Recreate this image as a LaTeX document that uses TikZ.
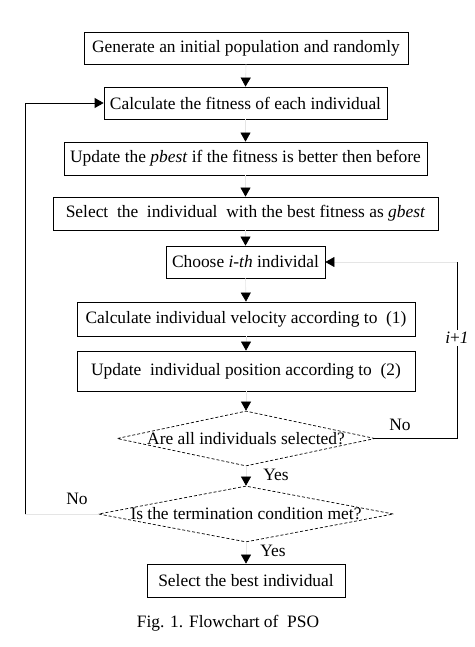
\documentclass[tikz,border=0pt]{standalone}
\usepackage{fontspec}
\setmainfont{Liberation Serif}
\usetikzlibrary{shapes.geometric,arrows.meta}
\begin{document}
\begin{tikzpicture}[x=1pt,y=-1pt,
  every node/.style={font=\fontsize{17.4}{20}\selectfont},
  box/.style={draw, line width=0.8pt, minimum height=32pt, inner sep=0pt},
  dec/.style={draw, dash pattern=on 3pt off 2pt, line width=0.7pt, diamond, inner sep=0pt},
  lbl/.style={inner sep=1pt},
  tip/.style={-{Triangle[length=9pt,width=10pt,color=black,fill=black]}},
  faint/.style={draw=black!10, line width=0.6pt},
  line/.style={draw=black, line width=0.8pt}]
\useasboundingbox (0,0) rectangle (474,647);
\fill[white] (0,0) rectangle (474,647);

\node[box, minimum width=324pt] (gen) at (246,48) {Generate an initial population and randomly};
\node[box, minimum width=283pt] (calc) at (245.5,103) {Calculate the fitness of each individual};
\node[box, minimum width=363pt, minimum height=33pt] (pbest) at (245.5,158.5) {Update the \textit{pbest} if the fitness is better then before};
\node[box, minimum width=385pt, minimum height=33pt] (gbest) at (245.5,213.5) {Select\ \ the\ \ individual\ \ with the best fitness as \textit{gbest}};
\node[box, minimum width=159pt] (choose) at (245.5,262) {Choose \textit{i-th} individal};
\node[box, minimum width=338pt, minimum height=34pt] (vel) at (246,319) {Calculate individual velocity according to\ \ (1)};
\node[box, minimum width=338pt, minimum height=40pt] (pos) at (246,371) {Update\ \ individual position according to\ \ (2)};
\node[dec, minimum width=258pt, minimum height=55pt] (d1) at (246,438.5) {\makebox[0pt]{Are all individuals selected?}};
\node[dec, minimum width=295pt, minimum height=56pt] (d2) at (246,514) {\makebox[0pt]{Is the termination condition met?}};
\node[box, minimum width=198pt, minimum height=33pt] (best) at (246,580.5) {Select the best individual};
\node (cap) at (228,623) {Fig. 1. Flowchart of\ \ PSO};

\foreach \a/\b in {gen/calc, calc/pbest, pbest/gbest, gbest/choose, choose/vel, vel/pos, pos/d1, d1/d2, d2/best}
  \draw[faint, tip] (\a.south) -- (\b.north);

\coordinate (r1) at (457,438.5);
\coordinate (r2) at (457,262);
\draw[line] (d1.east) -- (r1) -- (r2);
\draw[faint, tip] (r2) -- (choose.east);
\node[fill=white, inner sep=2pt] (ip) at (457,338) {\textit{i}+\textit{1}};

\coordinate (l1) at (25,514);
\coordinate (l2) at (25,103);
\draw[faint] (d2.west) -- (l1);
\draw[line, tip] (l1) -- (l2) -- (calc.west);

\node[lbl] (no1) at (400,425) {No};
\node[lbl] (yes1) at (276,475) {Yes};
\node[lbl] (yes2) at (273,551) {Yes};
\node[lbl] (no2) at (77,499) {No};
\end{tikzpicture}
\end{document}
